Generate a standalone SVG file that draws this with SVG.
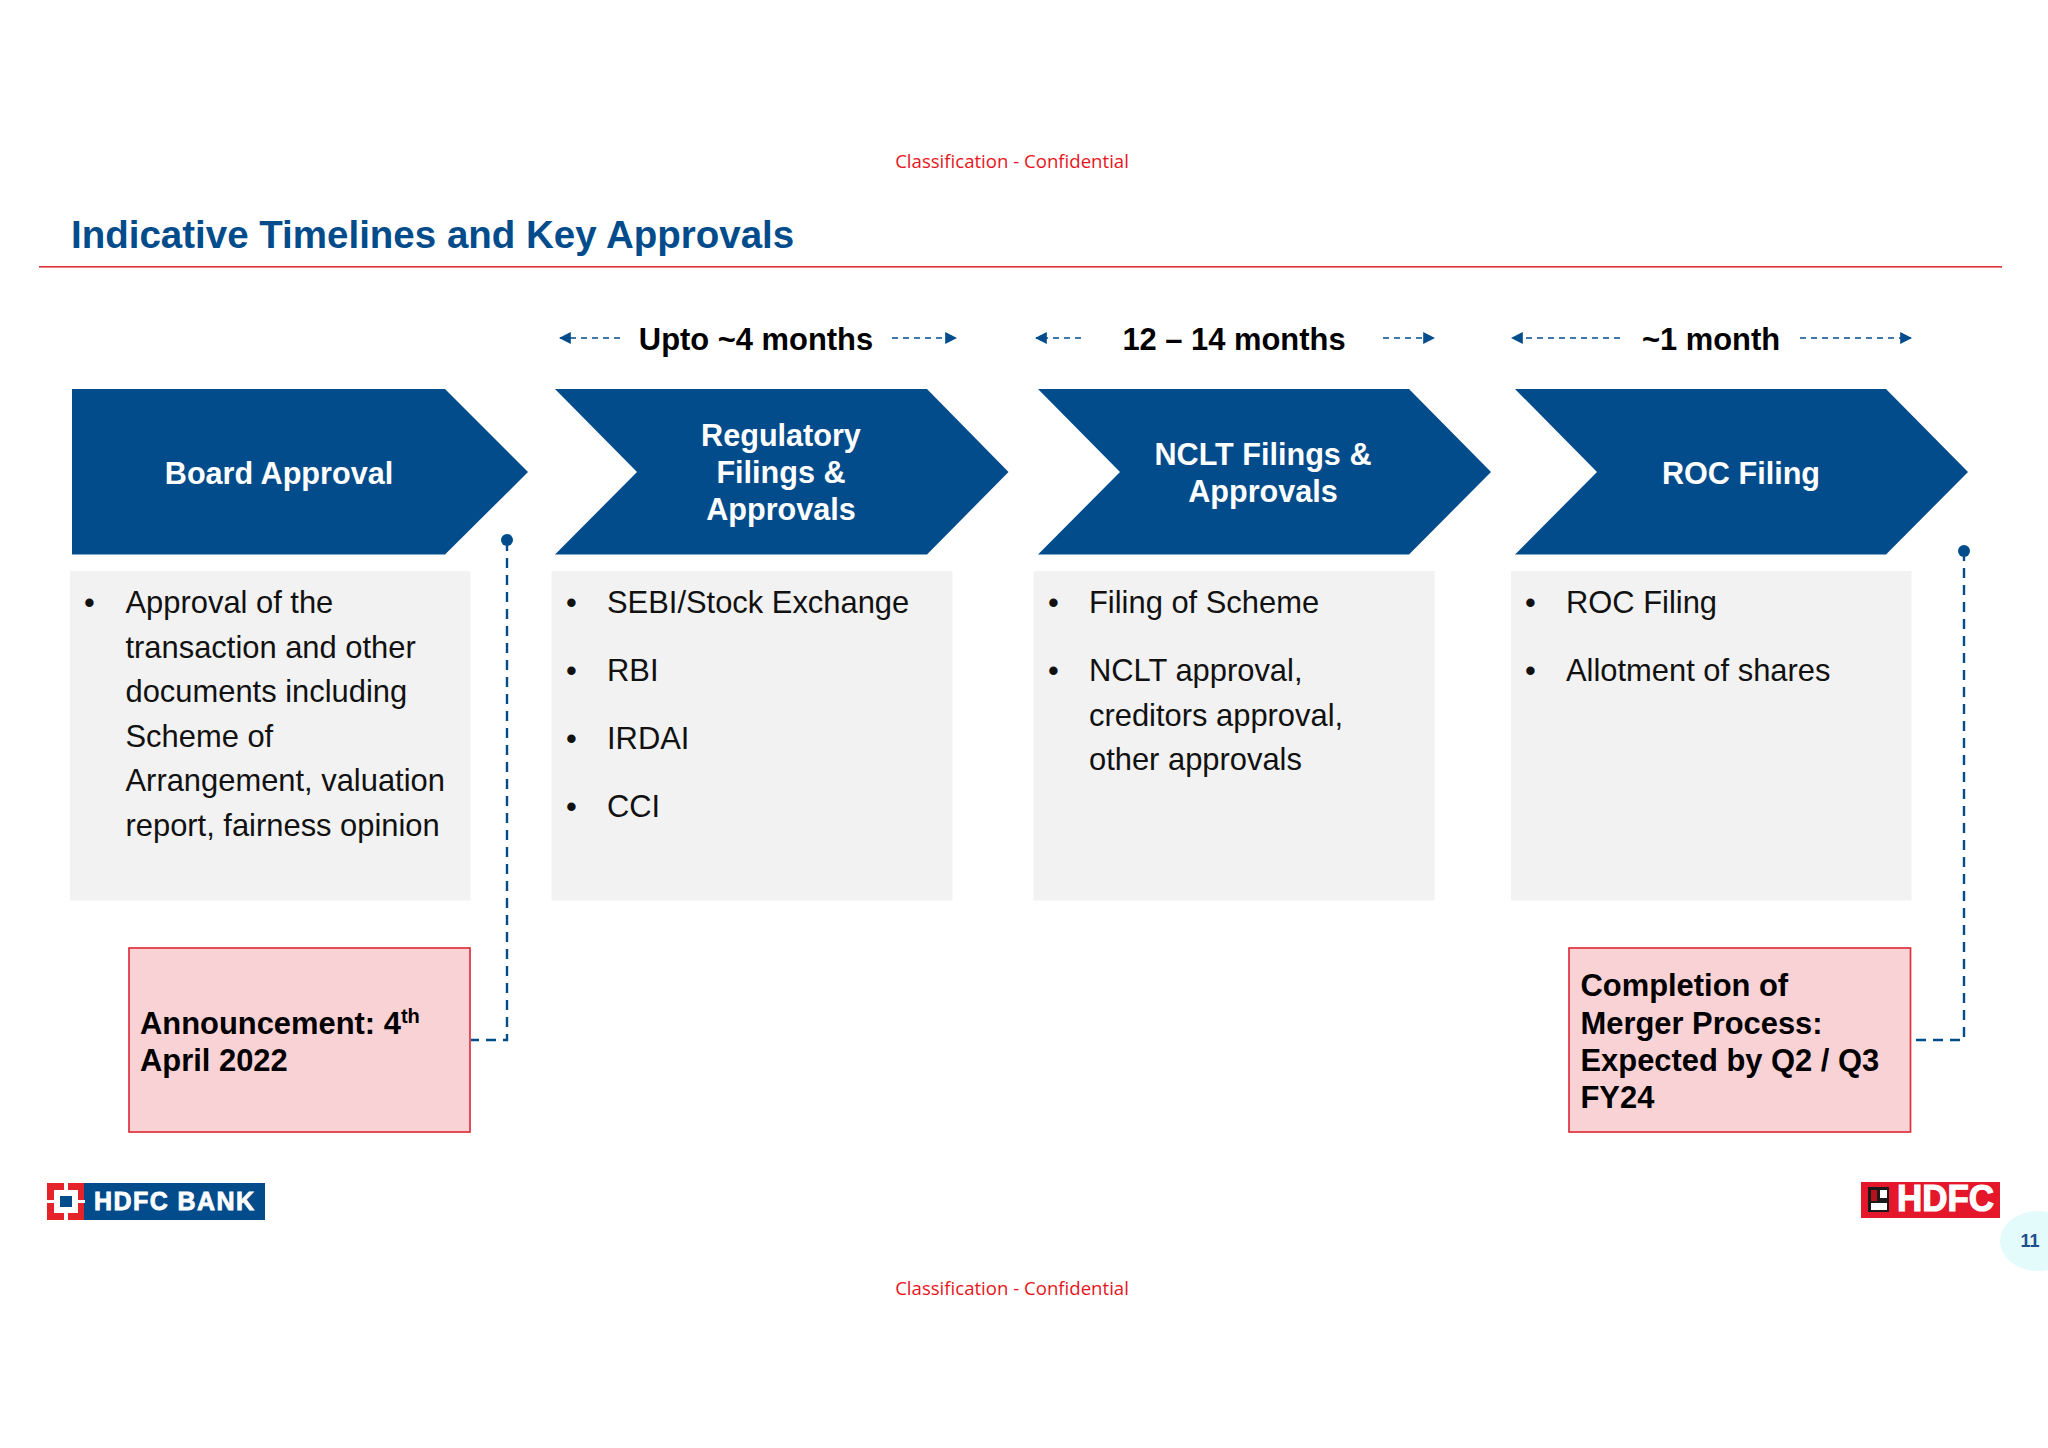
<svg xmlns="http://www.w3.org/2000/svg" width="2048" height="1448" viewBox="0 0 2048 1448">
<style>
text{font-family:"Liberation Sans",Arial,sans-serif}
.cls{font-family:"Open Sans","Noto Sans",sans-serif;font-size:18.6px;fill:#e8141c;text-anchor:middle}
.chev{fill:#034c8c}
.ct{fill:#fff;font-weight:700;font-size:30.6px;text-anchor:middle}
.panel{fill:#f2f2f2}
.body{fill:#111;font-size:30.9px}
.dur{fill:#000;font-weight:700;font-size:30.9px;text-anchor:middle}
.pink{fill:#f9d2d5;stroke:#e0323c;stroke-width:1.7}
.pt{fill:#000;font-weight:700;font-size:30.9px}
.dash{fill:none;stroke:#034c8c;stroke-width:1.7;stroke-dasharray:6 5}
.dash2{fill:none;stroke:#034c8c;stroke-width:2.4;stroke-dasharray:10 7}
</style>
<defs>
<marker id="arr" viewBox="0 0 10 10" refX="9" refY="5" markerWidth="12" markerHeight="12" markerUnits="userSpaceOnUse" orient="auto-start-reverse"><path d="M0 0L10 5L0 10Z" fill="#034c8c"/></marker>
</defs>
<rect width="2048" height="1448" fill="#fff"/>
<text class="cls" x="1012" y="168">Classification - Confidential</text>
<text class="cls" x="1012" y="1295">Classification - Confidential</text>
<text x="71" y="247.500" font-size="38.500" font-weight="700" fill="#034c8c">Indicative Timelines and Key Approvals</text>
<rect x="39" y="266" width="1963" height="1.6" fill="#e0323c"/>
<g id="connectors">
<path class="dash" d="M620 338H560" marker-end="url(#arr)"/>
<path class="dash" d="M892 338H956" marker-end="url(#arr)"/>
<path class="dash" d="M1081 338H1036" marker-end="url(#arr)"/>
<path class="dash" d="M1383 338H1434" marker-end="url(#arr)"/>
<path class="dash" d="M1620 338H1512" marker-end="url(#arr)"/>
<path class="dash" d="M1800 338H1911" marker-end="url(#arr)"/>
<path class="dash2" d="M507 541V1040H471"/>
<circle cx="507" cy="540" r="6" fill="#034c8c"/>
<path class="dash2" d="M1964 551V1040H1916"/>
<circle cx="1964" cy="551" r="6" fill="#034c8c"/>
</g>
<g id="label-4-months"><text class="dur" x="756" y="350">Upto ~4 months</text></g>
<g id="label-12-14-months"><text class="dur" x="1234" y="350">12 – 14 months</text></g>
<g id="label-1-month"><text class="dur" x="1711" y="350">~1 month</text></g>
<g id="board-approval">
<path class="chev" d="M72 389H445L528 472L445 554.500H72Z"/>
<text class="ct" x="279" y="484">Board Approval</text>
</g>
<g id="regulatory">
<path class="chev" d="M555 389H927L1008.500 472L927 554.500H555L637 472Z"/>
<text class="ct" x="781" y="446">Regulatory</text>
<text class="ct" x="781" y="483">Filings &amp;</text>
<text class="ct" x="781" y="520">Approvals</text>
</g>
<g id="nclt">
<path class="chev" d="M1038 389H1409L1491 472L1409 554.500H1038L1120 472Z"/>
<text class="ct" x="1263" y="465">NCLT Filings &amp;</text>
<text class="ct" x="1263" y="502">Approvals</text>
</g>
<g id="roc">
<path class="chev" d="M1515 389H1886L1968 472L1886 554.500H1515L1597 472Z"/>
<text class="ct" x="1741" y="484">ROC Filing</text>
</g>
<g id="panel-board">
<rect class="panel" x="70" y="571" width="400.500" height="329.500"/>
<text class="body" x="84" y="613">•</text>
<text class="body" x="125.500" y="613">Approval of the</text>
<text class="body" x="125.500" y="657.500">transaction and other</text>
<text class="body" x="125.500" y="702">documents including</text>
<text class="body" x="125.500" y="746.500">Scheme of</text>
<text class="body" x="125.500" y="791">Arrangement, valuation</text>
<text class="body" x="125.500" y="835.500">report, fairness opinion</text>
</g>
<g id="panel-regulatory">
<rect class="panel" x="551.500" y="571" width="401" height="329.500"/>
<text class="body" x="566" y="613">•</text><text class="body" x="607" y="613">SEBI/Stock Exchange</text>
<text class="body" x="566" y="681">•</text><text class="body" x="607" y="681">RBI</text>
<text class="body" x="566" y="749">•</text><text class="body" x="607" y="749">IRDAI</text>
<text class="body" x="566" y="817">•</text><text class="body" x="607" y="817">CCI</text>
</g>
<g id="panel-nclt">
<rect class="panel" x="1033.500" y="571" width="401" height="329.500"/>
<text class="body" x="1048" y="613">•</text><text class="body" x="1089" y="613">Filing of Scheme</text>
<text class="body" x="1048" y="681">•</text><text class="body" x="1089" y="681">NCLT approval,</text>
<text class="body" x="1089" y="725.500">creditors approval,</text>
<text class="body" x="1089" y="770">other approvals</text>
</g>
<g id="panel-roc">
<rect class="panel" x="1511" y="571" width="400.500" height="329.500"/>
<text class="body" x="1525" y="613">•</text><text class="body" x="1566" y="613">ROC Filing</text>
<text class="body" x="1525" y="681">•</text><text class="body" x="1566" y="681">Allotment of shares</text>
</g>
<g id="announcement">
<rect class="pink" x="129" y="948" width="341" height="184"/>
<text class="pt" x="140" y="1033.500">Announcement: 4<tspan font-size="20" dy="-11">th</tspan></text>
<text class="pt" x="140" y="1070.500">April 2022</text>
</g>
<g id="completion">
<rect class="pink" x="1569" y="948" width="341.500" height="184"/>
<text class="pt" x="1580.500" y="996">Completion of</text>
<text class="pt" x="1580.500" y="1034">Merger Process:</text>
<text class="pt" x="1580.500" y="1071">Expected by Q2 / Q3</text>
<text class="pt" x="1580.500" y="1108">FY24</text>
</g>
<g id="logo-bank">
<rect x="47" y="1183" width="38" height="37" fill="#e4232b"/>
<rect x="84" y="1183" width="181" height="37" fill="#034c8c"/>
<rect x="54" y="1190" width="24" height="23" fill="#fff"/>
<rect x="47" y="1200" width="38" height="3" fill="#fff"/>
<rect x="64" y="1183" width="4" height="37" fill="#fff"/>
<rect x="60" y="1196" width="12" height="11" fill="#034c8c"/>
<text x="94" y="1210" font-size="25" font-weight="700" fill="#fff" stroke="#fff" stroke-width=".8" textLength="160">HDFC BANK</text>
</g>
<g id="logo-hdfc">
<rect x="1861" y="1182" width="139" height="36" fill="#e4172b"/>
<rect x="1868" y="1187" width="21" height="25" fill="#1a1a1a"/>
<rect x="1871" y="1190" width="6" height="11" fill="#b5121b"/>
<rect x="1880" y="1190" width="7" height="8" fill="#fff"/>
<rect x="1871" y="1203" width="16" height="7" fill="#fff"/>
<text x="1897" y="1211" font-size="36" font-weight="700" fill="#fff" stroke="#fff" stroke-width="1.2" textLength="97" lengthAdjust="spacingAndGlyphs">HDFC</text>
</g>
<g id="page-number">
<ellipse cx="2038" cy="1241" rx="38" ry="30" fill="#e3fbfa"/>
<text x="2030" y="1247" font-size="18" font-weight="700" fill="#1f4e8c" text-anchor="middle">11</text>
</g>
</svg>
